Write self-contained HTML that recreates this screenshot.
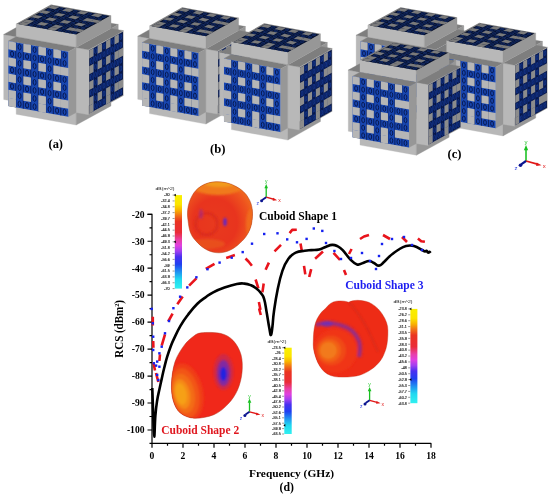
<!DOCTYPE html><html><head><meta charset="utf-8"><style>
html,body{margin:0;padding:0;background:#fff;}
svg{display:block;}
.ax{font-family:"Liberation Serif",serif;font-weight:bold;font-size:9.6px;}
.lab{font-family:"Liberation Serif",serif;font-weight:bold;}
.cbt{font-family:"Liberation Sans",sans-serif;font-size:4.2px;fill:#111;}
.cbl{font-family:"Liberation Sans",sans-serif;font-size:3.7px;fill:#111;stroke:#111;stroke-width:0.12px;}
.tri{font-family:"Liberation Sans",sans-serif;font-size:5px;}
</style></head><body>
<svg width="550" height="496" viewBox="0 0 550 496">
<defs>
<filter id="bl" x="-20%" y="-20%" width="140%" height="140%"><feGaussianBlur stdDeviation="1.2"/></filter>
<linearGradient id="cbg" x1="0" y1="0" x2="0" y2="1">
<stop offset="0" stop-color="#f8f000"/><stop offset="0.1" stop-color="#fce400"/><stop offset="0.16" stop-color="#f8b400"/>
<stop offset="0.22" stop-color="#f07018"/><stop offset="0.28" stop-color="#ea3420"/><stop offset="0.4" stop-color="#ea2c38"/>
<stop offset="0.48" stop-color="#e840a8"/><stop offset="0.54" stop-color="#e040e0"/><stop offset="0.6" stop-color="#a040f0"/>
<stop offset="0.66" stop-color="#4a30f0"/><stop offset="0.74" stop-color="#2040f0"/><stop offset="0.82" stop-color="#2090f0"/>
<stop offset="0.9" stop-color="#20d8f0"/><stop offset="1" stop-color="#30f0f0"/>
</linearGradient>
<radialGradient id="bl1" cx="0.42" cy="0.58" r="0.62">
<stop offset="0" stop-color="#e83a1e"/><stop offset="0.55" stop-color="#e8341e"/><stop offset="0.85" stop-color="#ee521e"/><stop offset="1" stop-color="#f0661e"/>
</radialGradient>
<g id="cube">

<polygon points="34.8,-6.08 42.05,-10.05 102.05,0.74 94.8,4.72" fill="#7e7e7e" stroke="#7e7e7e" stroke-width="0.35" stroke-linejoin="round"/>
<polygon points="94.8,4.72 102.05,0.74 102.05,65.75 94.8,69.72" fill="#979797" stroke="#979797" stroke-width="0.35" stroke-linejoin="round"/>
<polygon points="0,78 60,88.8 60,101.3 0,90.5" fill="#b8b8b8" stroke="#b8b8b8" stroke-width="0.35" stroke-linejoin="round"/>
<polygon points="60,88.8 94.8,69.72 94.8,82.22 60,101.3" fill="#979797" stroke="#979797" stroke-width="0.35" stroke-linejoin="round"/>
<polygon points="-12.5,10.75 0,13 0,78 -12.5,75.75" fill="#b8b8b8" stroke="#b8b8b8" stroke-width="0.35" stroke-linejoin="round"/>
<polygon points="-12.5,10.75 22.3,-8.33 34.8,-6.08 0,13" fill="#7e7e7e" stroke="#7e7e7e" stroke-width="0.35" stroke-linejoin="round"/>
<polygon points="60,23.8 72.5,26.05 72.5,91.05 60,88.8" fill="#b8b8b8" stroke="#b8b8b8" stroke-width="0.35" stroke-linejoin="round"/>
<polygon points="60,23.8 94.8,4.72 107.3,6.97 72.5,26.05" fill="#7e7e7e" stroke="#7e7e7e" stroke-width="0.35" stroke-linejoin="round"/>
<g transform="matrix(4.22,-2.32,0,7.89,72.5,26.05)">
<rect x="0" y="0" width="8.24" height="8.24" fill="#979797"/>
<rect x="0.12" y="0.12" width="8" height="8" fill="#08184a"/>
<path d="M1.12,0.12 v8 M2.12,0.12 v8 M3.12,0.12 v8 M4.12,0.12 v8 M5.12,0.12 v8 M6.12,0.12 v8 M7.12,0.12 v8" stroke="#163a96" stroke-width="0.1" fill="none"/>
<rect x="0.12" y="0.12" width="1.02" height="1.02" fill="#8c8c8c"/>
<rect x="2.12" y="0.12" width="1.02" height="1.02" fill="#8c8c8c"/>
<rect x="4.12" y="0.12" width="1.02" height="1.02" fill="#8c8c8c"/>
<rect x="6.12" y="0.12" width="1.02" height="1.02" fill="#8c8c8c"/>
<rect x="0.12" y="2.12" width="1.02" height="1.02" fill="#8c8c8c"/>
<rect x="2.12" y="2.12" width="1.02" height="1.02" fill="#8c8c8c"/>
<rect x="4.12" y="2.12" width="1.02" height="1.02" fill="#8c8c8c"/>
<rect x="6.12" y="2.12" width="1.02" height="1.02" fill="#8c8c8c"/>
<rect x="7.12" y="2.12" width="1.02" height="1.02" fill="#8c8c8c"/>
<rect x="0.12" y="4.12" width="1.02" height="1.02" fill="#8c8c8c"/>
<rect x="2.12" y="4.12" width="1.02" height="1.02" fill="#8c8c8c"/>
<rect x="4.12" y="4.12" width="1.02" height="1.02" fill="#8c8c8c"/>
<rect x="6.12" y="4.12" width="1.02" height="1.02" fill="#8c8c8c"/>
<rect x="0.12" y="6.12" width="1.02" height="1.02" fill="#8c8c8c"/>
<rect x="2.12" y="6.12" width="1.02" height="1.02" fill="#8c8c8c"/>
<rect x="4.12" y="6.12" width="1.02" height="1.02" fill="#8c8c8c"/>
<rect x="6.12" y="6.12" width="1.02" height="1.02" fill="#8c8c8c"/>
<rect x="7.12" y="6.12" width="1.02" height="1.02" fill="#8c8c8c"/>
<rect x="0.12" y="7.12" width="1.02" height="1.02" fill="#8c8c8c"/>
<rect x="4.12" y="7.12" width="1.02" height="1.02" fill="#8c8c8c"/>
<g fill="none" stroke="#163a96" stroke-width="0.12"><ellipse cx="1.62" cy="0.62" rx="0.2" ry="0.34"/><ellipse cx="3.62" cy="0.62" rx="0.2" ry="0.34"/><ellipse cx="5.62" cy="0.62" rx="0.2" ry="0.34"/><ellipse cx="7.62" cy="0.62" rx="0.2" ry="0.34"/><ellipse cx="0.62" cy="1.62" rx="0.2" ry="0.34"/><ellipse cx="1.62" cy="1.62" rx="0.2" ry="0.34"/><ellipse cx="2.62" cy="1.62" rx="0.2" ry="0.34"/><ellipse cx="3.62" cy="1.62" rx="0.2" ry="0.34"/><ellipse cx="4.62" cy="1.62" rx="0.2" ry="0.34"/><ellipse cx="5.62" cy="1.62" rx="0.2" ry="0.34"/><ellipse cx="6.62" cy="1.62" rx="0.2" ry="0.34"/><ellipse cx="7.62" cy="1.62" rx="0.2" ry="0.34"/><ellipse cx="1.62" cy="2.62" rx="0.2" ry="0.34"/><ellipse cx="3.62" cy="2.62" rx="0.2" ry="0.34"/><ellipse cx="5.62" cy="2.62" rx="0.2" ry="0.34"/><ellipse cx="0.62" cy="3.62" rx="0.2" ry="0.34"/><ellipse cx="1.62" cy="3.62" rx="0.2" ry="0.34"/><ellipse cx="2.62" cy="3.62" rx="0.2" ry="0.34"/><ellipse cx="3.62" cy="3.62" rx="0.2" ry="0.34"/><ellipse cx="4.62" cy="3.62" rx="0.2" ry="0.34"/><ellipse cx="5.62" cy="3.62" rx="0.2" ry="0.34"/><ellipse cx="6.62" cy="3.62" rx="0.2" ry="0.34"/><ellipse cx="7.62" cy="3.62" rx="0.2" ry="0.34"/><ellipse cx="1.62" cy="4.62" rx="0.2" ry="0.34"/><ellipse cx="3.62" cy="4.62" rx="0.2" ry="0.34"/><ellipse cx="5.62" cy="4.62" rx="0.2" ry="0.34"/><ellipse cx="7.62" cy="4.62" rx="0.2" ry="0.34"/><ellipse cx="0.62" cy="5.62" rx="0.2" ry="0.34"/><ellipse cx="1.62" cy="5.62" rx="0.2" ry="0.34"/><ellipse cx="2.62" cy="5.62" rx="0.2" ry="0.34"/><ellipse cx="3.62" cy="5.62" rx="0.2" ry="0.34"/><ellipse cx="4.62" cy="5.62" rx="0.2" ry="0.34"/><ellipse cx="5.62" cy="5.62" rx="0.2" ry="0.34"/><ellipse cx="6.62" cy="5.62" rx="0.2" ry="0.34"/><ellipse cx="7.62" cy="5.62" rx="0.2" ry="0.34"/><ellipse cx="1.62" cy="6.62" rx="0.2" ry="0.34"/><ellipse cx="3.62" cy="6.62" rx="0.2" ry="0.34"/><ellipse cx="5.62" cy="6.62" rx="0.2" ry="0.34"/><ellipse cx="1.62" cy="7.62" rx="0.2" ry="0.34"/><ellipse cx="2.62" cy="7.62" rx="0.2" ry="0.34"/><ellipse cx="3.62" cy="7.62" rx="0.2" ry="0.34"/><ellipse cx="5.62" cy="7.62" rx="0.2" ry="0.34"/><ellipse cx="6.62" cy="7.62" rx="0.2" ry="0.34"/><ellipse cx="7.62" cy="7.62" rx="0.2" ry="0.34"/></g>
</g>
<polygon points="0,0 60,10.8 60,23.8 0,13" fill="#b8b8b8" stroke="#b8b8b8" stroke-width="0.35" stroke-linejoin="round"/>
<polygon points="60,10.8 94.8,-8.28 94.8,4.72 60,23.8" fill="#979797" stroke="#979797" stroke-width="0.35" stroke-linejoin="round"/>
<g transform="matrix(7.23,1.3,-4.19,2.3,34.8,-19.08)">
<rect x="0" y="0" width="8.3" height="8.3" fill="#808080"/>
<rect x="0.3" y="0.3" width="8" height="8" fill="#07112c"/>
<path d="M1.3,0.3 v8 M2.3,0.3 v8 M3.3,0.3 v8 M4.3,0.3 v8 M5.3,0.3 v8 M6.3,0.3 v8 M7.3,0.3 v8" stroke="#163278" stroke-width="0.1" fill="none"/>
<rect x="0.3" y="0.3" width="1.02" height="1.02" fill="#7a7a7a"/>
<rect x="2.3" y="0.3" width="1.02" height="1.02" fill="#7a7a7a"/>
<rect x="4.3" y="0.3" width="1.02" height="1.02" fill="#7a7a7a"/>
<rect x="6.3" y="0.3" width="1.02" height="1.02" fill="#7a7a7a"/>
<rect x="0.3" y="2.3" width="1.02" height="1.02" fill="#7a7a7a"/>
<rect x="2.3" y="2.3" width="1.02" height="1.02" fill="#7a7a7a"/>
<rect x="4.3" y="2.3" width="1.02" height="1.02" fill="#7a7a7a"/>
<rect x="6.3" y="2.3" width="1.02" height="1.02" fill="#7a7a7a"/>
<rect x="7.3" y="2.3" width="1.02" height="1.02" fill="#7a7a7a"/>
<rect x="0.3" y="4.3" width="1.02" height="1.02" fill="#7a7a7a"/>
<rect x="2.3" y="4.3" width="1.02" height="1.02" fill="#7a7a7a"/>
<rect x="4.3" y="4.3" width="1.02" height="1.02" fill="#7a7a7a"/>
<rect x="6.3" y="4.3" width="1.02" height="1.02" fill="#7a7a7a"/>
<rect x="0.3" y="6.3" width="1.02" height="1.02" fill="#7a7a7a"/>
<rect x="2.3" y="6.3" width="1.02" height="1.02" fill="#7a7a7a"/>
<rect x="4.3" y="6.3" width="1.02" height="1.02" fill="#7a7a7a"/>
<rect x="6.3" y="6.3" width="1.02" height="1.02" fill="#7a7a7a"/>
<rect x="7.3" y="6.3" width="1.02" height="1.02" fill="#7a7a7a"/>
<rect x="0.3" y="7.3" width="1.02" height="1.02" fill="#7a7a7a"/>
<rect x="4.3" y="7.3" width="1.02" height="1.02" fill="#7a7a7a"/>
<g fill="none" stroke="#163278" stroke-width="0.12"><ellipse cx="1.8" cy="0.8" rx="0.2" ry="0.34"/><ellipse cx="3.8" cy="0.8" rx="0.2" ry="0.34"/><ellipse cx="5.8" cy="0.8" rx="0.2" ry="0.34"/><ellipse cx="7.8" cy="0.8" rx="0.2" ry="0.34"/><ellipse cx="0.8" cy="1.8" rx="0.2" ry="0.34"/><ellipse cx="1.8" cy="1.8" rx="0.2" ry="0.34"/><ellipse cx="2.8" cy="1.8" rx="0.2" ry="0.34"/><ellipse cx="3.8" cy="1.8" rx="0.2" ry="0.34"/><ellipse cx="4.8" cy="1.8" rx="0.2" ry="0.34"/><ellipse cx="5.8" cy="1.8" rx="0.2" ry="0.34"/><ellipse cx="6.8" cy="1.8" rx="0.2" ry="0.34"/><ellipse cx="7.8" cy="1.8" rx="0.2" ry="0.34"/><ellipse cx="1.8" cy="2.8" rx="0.2" ry="0.34"/><ellipse cx="3.8" cy="2.8" rx="0.2" ry="0.34"/><ellipse cx="5.8" cy="2.8" rx="0.2" ry="0.34"/><ellipse cx="0.8" cy="3.8" rx="0.2" ry="0.34"/><ellipse cx="1.8" cy="3.8" rx="0.2" ry="0.34"/><ellipse cx="2.8" cy="3.8" rx="0.2" ry="0.34"/><ellipse cx="3.8" cy="3.8" rx="0.2" ry="0.34"/><ellipse cx="4.8" cy="3.8" rx="0.2" ry="0.34"/><ellipse cx="5.8" cy="3.8" rx="0.2" ry="0.34"/><ellipse cx="6.8" cy="3.8" rx="0.2" ry="0.34"/><ellipse cx="7.8" cy="3.8" rx="0.2" ry="0.34"/><ellipse cx="1.8" cy="4.8" rx="0.2" ry="0.34"/><ellipse cx="3.8" cy="4.8" rx="0.2" ry="0.34"/><ellipse cx="5.8" cy="4.8" rx="0.2" ry="0.34"/><ellipse cx="7.8" cy="4.8" rx="0.2" ry="0.34"/><ellipse cx="0.8" cy="5.8" rx="0.2" ry="0.34"/><ellipse cx="1.8" cy="5.8" rx="0.2" ry="0.34"/><ellipse cx="2.8" cy="5.8" rx="0.2" ry="0.34"/><ellipse cx="3.8" cy="5.8" rx="0.2" ry="0.34"/><ellipse cx="4.8" cy="5.8" rx="0.2" ry="0.34"/><ellipse cx="5.8" cy="5.8" rx="0.2" ry="0.34"/><ellipse cx="6.8" cy="5.8" rx="0.2" ry="0.34"/><ellipse cx="7.8" cy="5.8" rx="0.2" ry="0.34"/><ellipse cx="1.8" cy="6.8" rx="0.2" ry="0.34"/><ellipse cx="3.8" cy="6.8" rx="0.2" ry="0.34"/><ellipse cx="5.8" cy="6.8" rx="0.2" ry="0.34"/><ellipse cx="1.8" cy="7.8" rx="0.2" ry="0.34"/><ellipse cx="2.8" cy="7.8" rx="0.2" ry="0.34"/><ellipse cx="3.8" cy="7.8" rx="0.2" ry="0.34"/><ellipse cx="5.8" cy="7.8" rx="0.2" ry="0.34"/><ellipse cx="6.8" cy="7.8" rx="0.2" ry="0.34"/><ellipse cx="7.8" cy="7.8" rx="0.2" ry="0.34"/></g>
</g>
<polygon points="-7.89,17.32 0,13 60,23.8 52.11,28.12" fill="#7e7e7e" stroke="#7e7e7e" stroke-width="0.35" stroke-linejoin="round"/>
<polygon points="52.11,28.12 60,23.8 60,88.8 52.11,93.12" fill="#979797" stroke="#979797" stroke-width="0.35" stroke-linejoin="round"/>
<g transform="matrix(7.5,1.35,0,8.12,-7.89,17.32)">
<rect x="0" y="0" width="8" height="8" fill="#b8b8b8"/>
<rect x="0" y="0" width="8" height="8" fill="#1846b0"/>
<path d="M1,0 v8 M2,0 v8 M3,0 v8 M4,0 v8 M5,0 v8 M6,0 v8 M7,0 v8" stroke="#06164a" stroke-width="0.1" fill="none"/>
<rect x="0" y="0" width="1.02" height="1.02" fill="#b6b6b6"/>
<rect x="2" y="0" width="1.02" height="1.02" fill="#b6b6b6"/>
<rect x="4" y="0" width="1.02" height="1.02" fill="#b6b6b6"/>
<rect x="6" y="0" width="1.02" height="1.02" fill="#b6b6b6"/>
<rect x="0" y="2" width="1.02" height="1.02" fill="#b6b6b6"/>
<rect x="2" y="2" width="1.02" height="1.02" fill="#b6b6b6"/>
<rect x="4" y="2" width="1.02" height="1.02" fill="#b6b6b6"/>
<rect x="6" y="2" width="1.02" height="1.02" fill="#b6b6b6"/>
<rect x="7" y="2" width="1.02" height="1.02" fill="#b6b6b6"/>
<rect x="0" y="4" width="1.02" height="1.02" fill="#b6b6b6"/>
<rect x="2" y="4" width="1.02" height="1.02" fill="#b6b6b6"/>
<rect x="4" y="4" width="1.02" height="1.02" fill="#b6b6b6"/>
<rect x="6" y="4" width="1.02" height="1.02" fill="#b6b6b6"/>
<rect x="0" y="6" width="1.02" height="1.02" fill="#b6b6b6"/>
<rect x="2" y="6" width="1.02" height="1.02" fill="#b6b6b6"/>
<rect x="4" y="6" width="1.02" height="1.02" fill="#b6b6b6"/>
<rect x="6" y="6" width="1.02" height="1.02" fill="#b6b6b6"/>
<rect x="7" y="6" width="1.02" height="1.02" fill="#b6b6b6"/>
<rect x="0" y="7" width="1.02" height="1.02" fill="#b6b6b6"/>
<rect x="4" y="7" width="1.02" height="1.02" fill="#b6b6b6"/>
<g fill="none" stroke="#06164a" stroke-width="0.12"><ellipse cx="1.5" cy="0.5" rx="0.2" ry="0.34"/><ellipse cx="3.5" cy="0.5" rx="0.2" ry="0.34"/><ellipse cx="5.5" cy="0.5" rx="0.2" ry="0.34"/><ellipse cx="7.5" cy="0.5" rx="0.2" ry="0.34"/><ellipse cx="0.5" cy="1.5" rx="0.2" ry="0.34"/><ellipse cx="1.5" cy="1.5" rx="0.2" ry="0.34"/><ellipse cx="2.5" cy="1.5" rx="0.2" ry="0.34"/><ellipse cx="3.5" cy="1.5" rx="0.2" ry="0.34"/><ellipse cx="4.5" cy="1.5" rx="0.2" ry="0.34"/><ellipse cx="5.5" cy="1.5" rx="0.2" ry="0.34"/><ellipse cx="6.5" cy="1.5" rx="0.2" ry="0.34"/><ellipse cx="7.5" cy="1.5" rx="0.2" ry="0.34"/><ellipse cx="1.5" cy="2.5" rx="0.2" ry="0.34"/><ellipse cx="3.5" cy="2.5" rx="0.2" ry="0.34"/><ellipse cx="5.5" cy="2.5" rx="0.2" ry="0.34"/><ellipse cx="0.5" cy="3.5" rx="0.2" ry="0.34"/><ellipse cx="1.5" cy="3.5" rx="0.2" ry="0.34"/><ellipse cx="2.5" cy="3.5" rx="0.2" ry="0.34"/><ellipse cx="3.5" cy="3.5" rx="0.2" ry="0.34"/><ellipse cx="4.5" cy="3.5" rx="0.2" ry="0.34"/><ellipse cx="5.5" cy="3.5" rx="0.2" ry="0.34"/><ellipse cx="6.5" cy="3.5" rx="0.2" ry="0.34"/><ellipse cx="7.5" cy="3.5" rx="0.2" ry="0.34"/><ellipse cx="1.5" cy="4.5" rx="0.2" ry="0.34"/><ellipse cx="3.5" cy="4.5" rx="0.2" ry="0.34"/><ellipse cx="5.5" cy="4.5" rx="0.2" ry="0.34"/><ellipse cx="7.5" cy="4.5" rx="0.2" ry="0.34"/><ellipse cx="0.5" cy="5.5" rx="0.2" ry="0.34"/><ellipse cx="1.5" cy="5.5" rx="0.2" ry="0.34"/><ellipse cx="2.5" cy="5.5" rx="0.2" ry="0.34"/><ellipse cx="3.5" cy="5.5" rx="0.2" ry="0.34"/><ellipse cx="4.5" cy="5.5" rx="0.2" ry="0.34"/><ellipse cx="5.5" cy="5.5" rx="0.2" ry="0.34"/><ellipse cx="6.5" cy="5.5" rx="0.2" ry="0.34"/><ellipse cx="7.5" cy="5.5" rx="0.2" ry="0.34"/><ellipse cx="1.5" cy="6.5" rx="0.2" ry="0.34"/><ellipse cx="3.5" cy="6.5" rx="0.2" ry="0.34"/><ellipse cx="5.5" cy="6.5" rx="0.2" ry="0.34"/><ellipse cx="1.5" cy="7.5" rx="0.2" ry="0.34"/><ellipse cx="2.5" cy="7.5" rx="0.2" ry="0.34"/><ellipse cx="3.5" cy="7.5" rx="0.2" ry="0.34"/><ellipse cx="5.5" cy="7.5" rx="0.2" ry="0.34"/><ellipse cx="6.5" cy="7.5" rx="0.2" ry="0.34"/><ellipse cx="7.5" cy="7.5" rx="0.2" ry="0.34"/></g>
</g>
</g>
</defs>

<use href="#cube" transform="translate(16.2,23.7) scale(1,1)"/>
<use href="#cube" transform="translate(149.5,25.8) scale(0.94,0.97)"/>
<use href="#cube" transform="translate(231.4,41.8) scale(0.94,0.97)"/>
<use href="#cube" transform="translate(367.9,25.1) scale(0.94,0.94)"/>
<use href="#cube" transform="translate(446.6,40.7) scale(0.94,0.94)"/>
<use href="#cube" transform="translate(360,60) scale(0.94,0.94)"/>
<text x="48.5" y="148" class="lab" font-size="12" textLength="14.5" lengthAdjust="spacingAndGlyphs">(a)</text>
<text x="210" y="153" class="lab" font-size="12" textLength="15.5" lengthAdjust="spacingAndGlyphs">(b)</text>
<text x="447.5" y="158" class="lab" font-size="12" textLength="14" lengthAdjust="spacingAndGlyphs">(c)</text>
<g transform="translate(526,161) scale(1.2)"><path d="M0,0 V-9.5" stroke="#18c020" stroke-width="1.3"/><path d="M-1.8,-9 L0,-13.3 L1.8,-9z" fill="#18c020"/><path d="M0,0 L9.42,2.61" stroke="#e01818" stroke-width="1.4"/><path d="M8.92,1.21 L12.92,3.61 L8.42,4.11 z" fill="#e01818"/><path d="M0,0 L-4,2.8" stroke="#0a1490" stroke-width="1.8"/><circle cx="-4.6" cy="3.6" r="1.5" fill="#0a1490"/><text x="0" y="-13.9" text-anchor="middle" class="tri" fill="#18c020">y</text><text x="15.22" y="5.81" text-anchor="middle" class="tri" fill="#e01818">x</text><text x="-8.4" y="7.8" text-anchor="middle" class="tri" fill="#3040e0">z</text></g>
<path d="M147.5,214.3 H152 V443.3 H431.2" fill="none" stroke="#000" stroke-width="1.2"/>
<path d="M152,214.3 h-4.5 M152,227.78 h-2.5 M152,241.26 h-4.5 M152,254.74 h-2.5 M152,268.22 h-4.5 M152,281.7 h-2.5 M152,295.18 h-4.5 M152,308.66 h-2.5 M152,322.14 h-4.5 M152,335.62 h-2.5 M152,349.1 h-4.5 M152,362.58 h-2.5 M152,376.06 h-4.5 M152,389.54 h-2.5 M152,403.02 h-4.5 M152,416.5 h-2.5 M152,429.98 h-4.5 M152,443.46 h-2.5 M152,443.3 v4.5 M167.5,443.3 v2.5 M183,443.3 v4.5 M198.5,443.3 v2.5 M214,443.3 v4.5 M229.5,443.3 v2.5 M245,443.3 v4.5 M260.5,443.3 v2.5 M276,443.3 v4.5 M291.5,443.3 v2.5 M307,443.3 v4.5 M322.5,443.3 v2.5 M338,443.3 v4.5 M353.5,443.3 v2.5 M369,443.3 v4.5 M384.5,443.3 v2.5 M400,443.3 v4.5 M415.5,443.3 v2.5 M431,443.3 v4.5" stroke="#000" stroke-width="1.2" fill="none"/>
<text x="144.5" y="217.6" text-anchor="end" class="ax">-20</text>
<text x="144.5" y="244.56" text-anchor="end" class="ax">-30</text>
<text x="144.5" y="271.52" text-anchor="end" class="ax">-40</text>
<text x="144.5" y="298.48" text-anchor="end" class="ax">-50</text>
<text x="144.5" y="325.44" text-anchor="end" class="ax">-60</text>
<text x="144.5" y="352.4" text-anchor="end" class="ax">-70</text>
<text x="144.5" y="379.36" text-anchor="end" class="ax">-80</text>
<text x="144.5" y="406.32" text-anchor="end" class="ax">-90</text>
<text x="144.5" y="433.28" text-anchor="end" class="ax">-100</text>
<text x="152" y="459" text-anchor="middle" class="ax">0</text>
<text x="183" y="459" text-anchor="middle" class="ax">2</text>
<text x="214" y="459" text-anchor="middle" class="ax">4</text>
<text x="245" y="459" text-anchor="middle" class="ax">6</text>
<text x="276" y="459" text-anchor="middle" class="ax">8</text>
<text x="307" y="459" text-anchor="middle" class="ax">10</text>
<text x="338" y="459" text-anchor="middle" class="ax">12</text>
<text x="369" y="459" text-anchor="middle" class="ax">14</text>
<text x="400" y="459" text-anchor="middle" class="ax">16</text>
<text x="431" y="459" text-anchor="middle" class="ax">18</text>
<clipPath id="cb1"><path d="M216,181.8 C205,182 196,188 192,196 C187,205 187,214 188,220 C189,229 190,235 196,241 C202,248 210,253 219.3,252.8 C227,252.5 234,249 240,243 C246,238 250,231 251.5,224 C253.5,214 252.5,205 249,199 C246,193 241,189 236,186.5 C230,183 223,181.5 216,181.8 Z"/></clipPath>
<path d="M216,181.8 C205,182 196,188 192,196 C187,205 187,214 188,220 C189,229 190,235 196,241 C202,248 210,253 219.3,252.8 C227,252.5 234,249 240,243 C246,238 250,231 251.5,224 C253.5,214 252.5,205 249,199 C246,193 241,189 236,186.5 C230,183 223,181.5 216,181.8 Z" fill="url(#bl1)"/>
<g clip-path="url(#cb1)"><g filter="url(#bl)">
<ellipse cx="218" cy="186" rx="26" ry="9" fill="#f07a1c"/>
<ellipse cx="220" cy="183" rx="16" ry="4" fill="#f29a1e"/>
<ellipse cx="252" cy="224" rx="6" ry="16" fill="#f06a1e"/>
<circle cx="206.5" cy="224" r="11" fill="none" stroke="#d82a1e" stroke-width="2"/>
<ellipse cx="201" cy="214" rx="2" ry="5" fill="#a02a8c" opacity="0.6"/>
<ellipse cx="225" cy="222" rx="1.8" ry="4.2" fill="#6a28c0"/>
<ellipse cx="207" cy="244" rx="18" ry="5" fill="#ea5a1e" opacity="0.7"/>
</g></g>
<path d="M216,181.8 C205,182 196,188 192,196 C187,205 187,214 188,220 C189,229 190,235 196,241 C202,248 210,253 219.3,252.8 C227,252.5 234,249 240,243 C246,238 250,231 251.5,224 C253.5,214 252.5,205 249,199 C246,193 241,189 236,186.5 C230,183 223,181.5 216,181.8 Z" fill="none" stroke="#b0401a" stroke-width="0.5"/>
<clipPath id="cb2"><path d="M201.5,332.8 C206.22,332.22 215.62,332.2 220.9,333.5 C226.18,334.8 229.85,337.07 233.2,340.6 C236.55,344.13 239.53,349.4 241,354.7 C242.47,360 242.58,366.52 242,372.4 C241.42,378.28 239.83,384.72 237.5,390 C235.17,395.28 231.95,399.98 228,404.1 C224.05,408.22 219.4,412.35 213.8,414.7 C208.2,417.05 199.98,418.48 194.4,418.2 C188.82,417.92 183.83,415.93 180.3,413 C176.77,410.07 174.67,405.6 173.2,400.6 C171.73,395.6 171.2,389.47 171.5,383 C171.8,376.53 172.95,367.98 175,361.8 C177.05,355.62 180.87,350.03 183.8,345.9 C186.73,341.77 189.65,339.18 192.6,337 C195.55,334.82 196.78,333.38 201.5,332.8 Z"/></clipPath>
<path d="M201.5,332.8 C206.22,332.22 215.62,332.2 220.9,333.5 C226.18,334.8 229.85,337.07 233.2,340.6 C236.55,344.13 239.53,349.4 241,354.7 C242.47,360 242.58,366.52 242,372.4 C241.42,378.28 239.83,384.72 237.5,390 C235.17,395.28 231.95,399.98 228,404.1 C224.05,408.22 219.4,412.35 213.8,414.7 C208.2,417.05 199.98,418.48 194.4,418.2 C188.82,417.92 183.83,415.93 180.3,413 C176.77,410.07 174.67,405.6 173.2,400.6 C171.73,395.6 171.2,389.47 171.5,383 C171.8,376.53 172.95,367.98 175,361.8 C177.05,355.62 180.87,350.03 183.8,345.9 C186.73,341.77 189.65,339.18 192.6,337 C195.55,334.82 196.78,333.38 201.5,332.8 Z" fill="#f0281a"/>
<g clip-path="url(#cb2)"><g filter="url(#bl)">
<ellipse cx="186" cy="392" rx="17" ry="29" transform="rotate(-12 186 392)" fill="#f03e18"/>
<ellipse cx="185" cy="393" rx="14" ry="25" transform="rotate(-12 185 393)" fill="#f25418"/>
<ellipse cx="183.5" cy="393.5" rx="11" ry="20" transform="rotate(-12 183.5 393.5)" fill="#f36c16"/>
<ellipse cx="182" cy="394" rx="8" ry="15" transform="rotate(-12 182 394)" fill="#f58a14"/>
<ellipse cx="181" cy="394" rx="5.5" ry="11" transform="rotate(-12 181 394)" fill="#f6a018"/>
<ellipse cx="223.5" cy="372" rx="10" ry="18" fill="#b02a70" opacity="0.5"/>
<ellipse cx="223.5" cy="373" rx="6.5" ry="13" fill="#7028b8" opacity="0.8"/>
<ellipse cx="223.4" cy="374.1" rx="3.2" ry="7" fill="#2420e0"/>
</g></g>
<path d="M201.5,332.8 C206.22,332.22 215.62,332.2 220.9,333.5 C226.18,334.8 229.85,337.07 233.2,340.6 C236.55,344.13 239.53,349.4 241,354.7 C242.47,360 242.58,366.52 242,372.4 C241.42,378.28 239.83,384.72 237.5,390 C235.17,395.28 231.95,399.98 228,404.1 C224.05,408.22 219.4,412.35 213.8,414.7 C208.2,417.05 199.98,418.48 194.4,418.2 C188.82,417.92 183.83,415.93 180.3,413 C176.77,410.07 174.67,405.6 173.2,400.6 C171.73,395.6 171.2,389.47 171.5,383 C171.8,376.53 172.95,367.98 175,361.8 C177.05,355.62 180.87,350.03 183.8,345.9 C186.73,341.77 189.65,339.18 192.6,337 C195.55,334.82 196.78,333.38 201.5,332.8 Z" fill="none" stroke="#b0301a" stroke-width="0.5"/>
<clipPath id="cb3"><path d="M325.7,308.3 C329,304 332,301.8 336.4,301.2 C341,300.6 345,301 348.8,302.2 C351,301 354,300.3 357.7,300.3 C363,300.5 368,301.5 371.9,303.9 C377,307 380,310.5 382.5,314.5 C386,320 388,325 387.9,330.5 C388,337 387.5,343 386.1,348.2 C384,355 382,359 379,362.4 C375.5,366.5 372,369 368.3,371.3 C363,374.5 358,376 352.4,376.6 C346,377.3 340,377.3 334.6,376.6 C329,375.5 325,373 322.2,369.5 C318.5,365 316.5,360 315.1,355.3 C313.5,350 313,346 313.3,341.1 C313.4,336.5 313.5,332.5 314.2,328.7 C315,323.5 316.5,319.5 318.6,316.3 C320.5,313 323,310.5 325.7,308.3 Z"/></clipPath>
<path d="M325.7,308.3 C329,304 332,301.8 336.4,301.2 C341,300.6 345,301 348.8,302.2 C351,301 354,300.3 357.7,300.3 C363,300.5 368,301.5 371.9,303.9 C377,307 380,310.5 382.5,314.5 C386,320 388,325 387.9,330.5 C388,337 387.5,343 386.1,348.2 C384,355 382,359 379,362.4 C375.5,366.5 372,369 368.3,371.3 C363,374.5 358,376 352.4,376.6 C346,377.3 340,377.3 334.6,376.6 C329,375.5 325,373 322.2,369.5 C318.5,365 316.5,360 315.1,355.3 C313.5,350 313,346 313.3,341.1 C313.4,336.5 313.5,332.5 314.2,328.7 C315,323.5 316.5,319.5 318.6,316.3 C320.5,313 323,310.5 325.7,308.3 Z" fill="#ee2c16"/>
<g clip-path="url(#cb3)"><g filter="url(#bl)">
<path d="M349,302 C356,310 362,318 368,330 C372,338 375,345 378,352" fill="none" stroke="#c8281c" stroke-width="1.5" opacity="0.7"/>
<path d="M316,325 C323,322.5 330,322 340,325 C350,327.5 356,333 359,341 C360.5,346 360,352 359,357" fill="none" stroke="#b02a60" stroke-width="6" opacity="0.4"/>
<path d="M316,325 C323,322.5 330,322 340,325 C350,327.5 356,333 359,341 C360.5,346 360,352 359,357" fill="none" stroke="#7030b8" stroke-width="3" opacity="0.65"/>
<ellipse cx="327" cy="324" rx="6" ry="3" fill="#5a30d0" opacity="0.6"/>
<circle cx="335" cy="351" r="22" fill="#f03416"/>
<circle cx="331" cy="350.5" r="15" fill="#f04818"/>
<circle cx="329.5" cy="350.5" r="11.5" fill="#f25e18"/>
<circle cx="328.4" cy="350.5" r="8.5" fill="#f27a1a"/>
</g></g>
<path d="M325.7,308.3 C329,304 332,301.8 336.4,301.2 C341,300.6 345,301 348.8,302.2 C351,301 354,300.3 357.7,300.3 C363,300.5 368,301.5 371.9,303.9 C377,307 380,310.5 382.5,314.5 C386,320 388,325 387.9,330.5 C388,337 387.5,343 386.1,348.2 C384,355 382,359 379,362.4 C375.5,366.5 372,369 368.3,371.3 C363,374.5 358,376 352.4,376.6 C346,377.3 340,377.3 334.6,376.6 C329,375.5 325,373 322.2,369.5 C318.5,365 316.5,360 315.1,355.3 C313.5,350 313,346 313.3,341.1 C313.4,336.5 313.5,332.5 314.2,328.7 C315,323.5 316.5,319.5 318.6,316.3 C320.5,313 323,310.5 325.7,308.3 Z" fill="none" stroke="#c0301a" stroke-width="0.4"/>
<path d="M152.8,316.7 L152.8,325.6 M153.2,341 L153.4,347.8 M153.4,362.5 L155,370.5 M156,373 L158.3,382 M159.4,361 L160,354.4 M161.7,345.6 L165,334.4 M168.2,321.5 L172.6,313.6 M177.3,304.3 L182.7,296.6 M189.1,285.6 L196.4,278.4 M205.8,268.9 L214.5,263.8 M226.2,258 L234.9,255.1 M245.5,258.5 L248.5,261.5 L251.9,265.8 M255.6,279.5 L258.4,288.4 M258.9,302 L260.3,309 L259.3,309.5 L260.8,315 M263.7,283.5 L262.4,292.4 M265.6,269.8 L268.9,262.6 M274.5,251.3 L281,244.8 M289.6,233.1 L292.2,229.9 L296.8,229.8 M300.5,243.6 L302,252.1 M304,265.9 L305.3,274.4 M311.2,269.1 L309.2,277 M315.1,258.7 L323,251.5 M333.5,252.8 L340,260 M344,270 L346,275 M349,254 L351.6,249 M360,239 L364,236.5 L369,235 M383,235 L390,239 M402,237 L407,242 M417.9,238.5 L421.2,241.2 L424.9,241.8" fill="none" stroke="#e8141c" stroke-width="2.6" stroke-linejoin="round"/>
<path d="M152.3,388 C152.51,394.3 152.76,403.64 153.2,415 C153.64,426.36 153.69,436.58 154.2,436.7 C154.71,436.82 154.7,424.02 155.4,415.5 C156.1,406.98 156.24,406.38 157.2,400.2 C158.16,394.02 158.45,393.97 159.5,389 C160.55,384.03 160.58,383.92 161.7,378.9 C162.82,373.88 163.02,372.68 164.3,367.5 C165.58,362.32 165.75,361.48 167.2,356.7 C168.65,351.92 168.94,351.15 170.5,347 C172.06,342.85 171.54,343.89 173.9,338.9 C176.26,333.91 177.26,331.29 180.6,325.6 C183.94,319.91 184.35,319.54 188.2,314.5 C192.05,309.46 193.13,307.94 197.1,304 C201.07,300.06 201.44,300.33 205.2,297.6 C208.96,294.87 208.7,294.66 213.2,292.3 C217.7,289.94 218.99,289.44 224.5,287.5 C230.01,285.56 232.16,284.91 236.8,284 C241.44,283.09 241.09,283.3 244.4,283.6 C247.71,283.9 248.2,284.16 251,285.3 C253.8,286.44 254.11,286.73 256.4,288.5 C258.69,290.27 259,290.47 260.8,292.9 C262.6,295.33 262.75,294.44 264.1,298.9 C265.45,303.36 265.39,305.21 266.6,312 C267.81,318.79 268.27,322.63 269.3,328 C270.33,333.37 270.25,335.47 271,335 C271.75,334.53 271.82,331.37 272.5,326 C273.18,320.63 272.73,320.35 273.9,312 C275.07,303.65 275.52,299.81 277.5,290.2 C279.48,280.59 279.86,278.15 282.4,270.8 C284.94,263.45 285.3,262.92 288.4,258.7 C291.5,254.48 291.9,254.54 295.7,252.7 C299.5,250.86 301.08,251.41 304.7,250.8 C308.32,250.19 307.84,250.4 311.2,250.1 C314.56,249.8 315.74,250.25 319.1,249.5 C322.46,248.75 322.54,247.97 325.6,246.9 C328.66,245.83 329.45,245.06 332.2,244.9 C334.95,244.74 334.95,244.99 337.4,246.2 C339.85,247.41 339.76,247.11 342.7,250.1 C345.64,253.09 346.66,255.66 350,259 C353.34,262.34 353.97,263.47 357,264.4 C360.03,265.33 360.2,263.79 363,263 C365.8,262.21 366.43,261 369,261 C371.57,261 371.67,261.93 374,263 C376.33,264.07 376.67,265.83 379,265.6 C381.33,265.37 381.43,264.24 384,262 C386.57,259.76 386.73,258.8 390,256 C393.27,253.2 394.27,252.33 398,250 C401.73,247.67 402.27,246.93 406,246 C409.73,245.07 410.27,245.07 414,246 C417.73,246.93 419.43,248.72 422,250 C424.57,251.28 423.95,251.31 425,251.5 C426.05,251.69 425.8,250.54 426.5,250.8 C427.2,251.06 427.3,252.37 428,252.6 C428.7,252.83 428.92,251.71 429.5,251.8 C430.08,251.89 430.27,252.72 430.5,253" fill="none" stroke="#000" stroke-width="2.6" stroke-linejoin="round"/>
<rect x="150.5" y="307.7" width="2.4" height="2.4" fill="#1420f0"/>
<rect x="151.6" y="322.1" width="2.4" height="2.4" fill="#1420f0"/>
<rect x="152" y="335.5" width="2.4" height="2.4" fill="#1420f0"/>
<rect x="152" y="348.8" width="2.4" height="2.4" fill="#1420f0"/>
<rect x="152.7" y="362.1" width="2.4" height="2.4" fill="#1420f0"/>
<rect x="156" y="360.4" width="2.4" height="2.4" fill="#1420f0"/>
<rect x="154.9" y="364.4" width="2.4" height="2.4" fill="#1420f0"/>
<rect x="158.2" y="365.5" width="2.4" height="2.4" fill="#1420f0"/>
<rect x="156" y="373.7" width="2.4" height="2.4" fill="#1420f0"/>
<rect x="157.1" y="378.8" width="2.4" height="2.4" fill="#1420f0"/>
<rect x="158.2" y="352.1" width="2.4" height="2.4" fill="#1420f0"/>
<rect x="160.5" y="345.5" width="2.4" height="2.4" fill="#1420f0"/>
<rect x="163.8" y="332.1" width="2.4" height="2.4" fill="#1420f0"/>
<rect x="167.8" y="319.8" width="2.4" height="2.4" fill="#1420f0"/>
<rect x="172.2" y="307" width="2.4" height="2.4" fill="#1420f0"/>
<rect x="178.9" y="295.5" width="2.4" height="2.4" fill="#1420f0"/>
<rect x="186.1" y="286.2" width="2.4" height="2.4" fill="#1420f0"/>
<rect x="195.2" y="276.1" width="2.4" height="2.4" fill="#1420f0"/>
<rect x="206.3" y="268" width="2.4" height="2.4" fill="#1420f0"/>
<rect x="218.4" y="261.4" width="2.4" height="2.4" fill="#1420f0"/>
<rect x="230.5" y="256.5" width="2.4" height="2.4" fill="#1420f0"/>
<rect x="241.5" y="250.9" width="2.4" height="2.4" fill="#1420f0"/>
<rect x="250.8" y="242.5" width="2.4" height="2.4" fill="#1420f0"/>
<rect x="263" y="232.8" width="2.4" height="2.4" fill="#1420f0"/>
<rect x="276.3" y="232.1" width="2.4" height="2.4" fill="#1420f0"/>
<rect x="286" y="238.2" width="2.4" height="2.4" fill="#1420f0"/>
<rect x="295.8" y="241.1" width="2.4" height="2.4" fill="#1420f0"/>
<rect x="305.4" y="237.7" width="2.4" height="2.4" fill="#1420f0"/>
<rect x="312.6" y="227.3" width="2.4" height="2.4" fill="#1420f0"/>
<rect x="321.1" y="229.7" width="2.4" height="2.4" fill="#1420f0"/>
<rect x="324.8" y="241.8" width="2.4" height="2.4" fill="#1420f0"/>
<rect x="333.2" y="249.8" width="2.4" height="2.4" fill="#1420f0"/>
<rect x="339.8" y="257.8" width="2.4" height="2.4" fill="#1420f0"/>
<rect x="349.8" y="256.8" width="2.4" height="2.4" fill="#1420f0"/>
<rect x="360.8" y="251.8" width="2.4" height="2.4" fill="#1420f0"/>
<rect x="368.8" y="259.8" width="2.4" height="2.4" fill="#1420f0"/>
<rect x="374.8" y="267.8" width="2.4" height="2.4" fill="#1420f0"/>
<rect x="377.8" y="254.8" width="2.4" height="2.4" fill="#1420f0"/>
<rect x="380.8" y="242.8" width="2.4" height="2.4" fill="#1420f0"/>
<rect x="390.8" y="237.8" width="2.4" height="2.4" fill="#1420f0"/>
<rect x="402.8" y="235.8" width="2.4" height="2.4" fill="#1420f0"/>
<rect x="410.8" y="243.8" width="2.4" height="2.4" fill="#1420f0"/>
<rect x="420.8" y="248.8" width="2.4" height="2.4" fill="#1420f0"/>
<rect x="174.8" y="195.1" width="7.2" height="93.5" fill="url(#cbg)"/>
<text x="155.5" y="190.4" class="cbt" textLength="19" lengthAdjust="spacingAndGlyphs">dB(m^2)</text>
<text x="169.7" y="196.4" text-anchor="end" class="cbl">-30</text>
<text x="169.7" y="202.24" text-anchor="end" class="cbl">-32.4</text>
<text x="169.7" y="208.09" text-anchor="end" class="cbl">-34.8</text>
<text x="169.7" y="213.93" text-anchor="end" class="cbl">-37.2</text>
<text x="169.7" y="219.78" text-anchor="end" class="cbl">-39.7</text>
<text x="169.7" y="225.62" text-anchor="end" class="cbl">-42.1</text>
<text x="169.7" y="231.46" text-anchor="end" class="cbl">-44.5</text>
<text x="169.7" y="237.31" text-anchor="end" class="cbl">-46.9</text>
<text x="169.7" y="243.15" text-anchor="end" class="cbl">-49.3</text>
<text x="169.7" y="248.99" text-anchor="end" class="cbl">-51.8</text>
<text x="169.7" y="254.84" text-anchor="end" class="cbl">-54.2</text>
<text x="169.7" y="260.68" text-anchor="end" class="cbl">-56.6</text>
<text x="169.7" y="266.53" text-anchor="end" class="cbl">-59</text>
<text x="169.7" y="272.37" text-anchor="end" class="cbl">-61.5</text>
<text x="169.7" y="278.21" text-anchor="end" class="cbl">-63.9</text>
<text x="169.7" y="284.06" text-anchor="end" class="cbl">-66.3</text>
<text x="169.7" y="289.9" text-anchor="end" class="cbl">-70</text>
<path d="M172.6,195.1 h2 M172.6,200.94 h2 M172.6,206.79 h2 M172.6,212.63 h2 M172.6,218.47 h2 M172.6,224.32 h2 M172.6,230.16 h2 M172.6,236.01 h2 M172.6,241.85 h2 M172.6,247.69 h2 M172.6,253.54 h2 M172.6,259.38 h2 M172.6,265.23 h2 M172.6,271.07 h2 M172.6,276.91 h2 M172.6,282.76 h2 M172.6,288.6 h2" stroke="#333" stroke-width="0.5"/>
<path d="M173.8,195.1 l2,-1.3 v2.6z" fill="#000"/>
<path d="M173.8,241.85 l2,-1.3 v2.6z" fill="#000"/>
<rect x="284.3" y="347.7" width="7.4" height="86.3" fill="url(#cbg)"/>
<text x="267.4" y="342.5" class="cbt" textLength="19" lengthAdjust="spacingAndGlyphs">dB(m^2)</text>
<text x="280.7" y="349" text-anchor="end" class="cbl">-23.5</text>
<text x="280.7" y="354.39" text-anchor="end" class="cbl">-26</text>
<text x="280.7" y="359.79" text-anchor="end" class="cbl">-28.4</text>
<text x="280.7" y="365.18" text-anchor="end" class="cbl">-30.8</text>
<text x="280.7" y="370.57" text-anchor="end" class="cbl">-33.2</text>
<text x="280.7" y="375.97" text-anchor="end" class="cbl">-35.7</text>
<text x="280.7" y="381.36" text-anchor="end" class="cbl">-38.1</text>
<text x="280.7" y="386.76" text-anchor="end" class="cbl">-40.5</text>
<text x="280.7" y="392.15" text-anchor="end" class="cbl">-42.9</text>
<text x="280.7" y="397.54" text-anchor="end" class="cbl">-45.4</text>
<text x="280.7" y="402.94" text-anchor="end" class="cbl">-47.8</text>
<text x="280.7" y="408.33" text-anchor="end" class="cbl">-50.2</text>
<text x="280.7" y="413.73" text-anchor="end" class="cbl">-52.6</text>
<text x="280.7" y="419.12" text-anchor="end" class="cbl">-55.1</text>
<text x="280.7" y="424.51" text-anchor="end" class="cbl">-57.5</text>
<text x="280.7" y="429.91" text-anchor="end" class="cbl">-59.9</text>
<text x="280.7" y="435.3" text-anchor="end" class="cbl">-63.5</text>
<path d="M282.1,347.7 h2 M282.1,353.09 h2 M282.1,358.49 h2 M282.1,363.88 h2 M282.1,369.27 h2 M282.1,374.67 h2 M282.1,380.06 h2 M282.1,385.46 h2 M282.1,390.85 h2 M282.1,396.24 h2 M282.1,401.64 h2 M282.1,407.03 h2 M282.1,412.43 h2 M282.1,417.82 h2 M282.1,423.21 h2 M282.1,428.61 h2 M282.1,434 h2" stroke="#333" stroke-width="0.5"/>
<path d="M283.3,347.7 l2,-1.3 v2.6z" fill="#000"/>
<path d="M283.3,425.37 l2,-1.3 v2.6z" fill="#000"/>
<rect x="410.4" y="308.9" width="7" height="94.3" fill="url(#cbg)"/>
<text x="393.5" y="303" class="cbt" textLength="19" lengthAdjust="spacingAndGlyphs">dB(m^2)</text>
<text x="406.8" y="310.2" text-anchor="end" class="cbl">-23.8</text>
<text x="406.8" y="316.09" text-anchor="end" class="cbl">-26.2</text>
<text x="406.8" y="321.99" text-anchor="end" class="cbl">-28.6</text>
<text x="406.8" y="327.88" text-anchor="end" class="cbl">-31.1</text>
<text x="406.8" y="333.77" text-anchor="end" class="cbl">-33.5</text>
<text x="406.8" y="339.67" text-anchor="end" class="cbl">-35.9</text>
<text x="406.8" y="345.56" text-anchor="end" class="cbl">-38.3</text>
<text x="406.8" y="351.46" text-anchor="end" class="cbl">-40.8</text>
<text x="406.8" y="357.35" text-anchor="end" class="cbl">-43.2</text>
<text x="406.8" y="363.24" text-anchor="end" class="cbl">-45.6</text>
<text x="406.8" y="369.14" text-anchor="end" class="cbl">-48</text>
<text x="406.8" y="375.03" text-anchor="end" class="cbl">-50.5</text>
<text x="406.8" y="380.93" text-anchor="end" class="cbl">-52.9</text>
<text x="406.8" y="386.82" text-anchor="end" class="cbl">-55.3</text>
<text x="406.8" y="392.71" text-anchor="end" class="cbl">-57.7</text>
<text x="406.8" y="398.61" text-anchor="end" class="cbl">-60.2</text>
<text x="406.8" y="404.5" text-anchor="end" class="cbl">-63.8</text>
<path d="M408.2,308.9 h2 M408.2,314.79 h2 M408.2,320.69 h2 M408.2,326.58 h2 M408.2,332.47 h2 M408.2,338.37 h2 M408.2,344.26 h2 M408.2,350.16 h2 M408.2,356.05 h2 M408.2,361.94 h2 M408.2,367.84 h2 M408.2,373.73 h2 M408.2,379.62 h2 M408.2,385.52 h2 M408.2,391.41 h2 M408.2,397.31 h2 M408.2,403.2 h2" stroke="#333" stroke-width="0.5"/>
<path d="M409.4,308.9 l2,-1.3 v2.6z" fill="#000"/>
<path d="M409.4,379.62 l2,-1.3 v2.6z" fill="#000"/>
<g transform="translate(266.2,197.2) scale(1)"><path d="M0,0 V-9.5" stroke="#18c020" stroke-width="1.3"/><path d="M-1.8,-9 L0,-13.3 L1.8,-9z" fill="#18c020"/><path d="M0,0 L7.47,2.07" stroke="#e01818" stroke-width="1.4"/><path d="M6.97,0.67 L10.97,3.07 L6.47,3.57 z" fill="#e01818"/><path d="M0,0 L-4,2.8" stroke="#0a1490" stroke-width="1.8"/><circle cx="-4.6" cy="3.6" r="1.5" fill="#0a1490"/><text x="0" y="-13.9" text-anchor="middle" class="tri" fill="#18c020">y</text><text x="13.27" y="5.27" text-anchor="middle" class="tri" fill="#e01818">x</text><text x="-8.4" y="7.8" text-anchor="middle" class="tri" fill="#3040e0">z</text></g>
<g transform="translate(249.5,411.8) scale(1)"><path d="M0,0 V-9.5" stroke="#18c020" stroke-width="1.3"/><path d="M-1.8,-9 L0,-13.3 L1.8,-9z" fill="#18c020"/><path d="M0,0 L7.47,2.07" stroke="#e01818" stroke-width="1.4"/><path d="M6.97,0.67 L10.97,3.07 L6.47,3.57 z" fill="#e01818"/><path d="M0,0 L-4,2.8" stroke="#0a1490" stroke-width="1.8"/><circle cx="-4.6" cy="3.6" r="1.5" fill="#0a1490"/><text x="0" y="-13.9" text-anchor="middle" class="tri" fill="#18c020">y</text><text x="13.27" y="5.27" text-anchor="middle" class="tri" fill="#e01818">x</text><text x="-8.4" y="7.8" text-anchor="middle" class="tri" fill="#3040e0">z</text></g>
<g transform="translate(369.6,400.3) scale(1)"><path d="M0,0 V-9.5" stroke="#18c020" stroke-width="1.3"/><path d="M-1.8,-9 L0,-13.3 L1.8,-9z" fill="#18c020"/><path d="M0,0 L7.47,2.07" stroke="#e01818" stroke-width="1.4"/><path d="M6.97,0.67 L10.97,3.07 L6.47,3.57 z" fill="#e01818"/><path d="M0,0 L-4,2.8" stroke="#0a1490" stroke-width="1.8"/><circle cx="-4.6" cy="3.6" r="1.5" fill="#0a1490"/><text x="0" y="-13.9" text-anchor="middle" class="tri" fill="#18c020">y</text><text x="13.27" y="5.27" text-anchor="middle" class="tri" fill="#e01818">x</text><text x="-8.4" y="7.8" text-anchor="middle" class="tri" fill="#3040e0">z</text></g>
<text x="259" y="219.8" class="lab" font-size="12.5" textLength="78" lengthAdjust="spacingAndGlyphs">Cuboid Shape 1</text>
<text x="161.2" y="434.4" class="lab" font-size="12.5" fill="#e0161e" textLength="78" lengthAdjust="spacingAndGlyphs">Cuboid Shape 2</text>
<text x="345.2" y="289" class="lab" font-size="12.5" fill="#1c1cf0" textLength="78.3" lengthAdjust="spacingAndGlyphs">Cuboid Shape 3</text>
<text x="249" y="477.4" class="lab" font-size="11.2" textLength="85" lengthAdjust="spacingAndGlyphs">Frequency (GHz)</text>
<text x="279.6" y="491" class="lab" font-size="11.5" textLength="14.4" lengthAdjust="spacingAndGlyphs">(d)</text>
<text transform="translate(123,357.7) rotate(-90)" class="lab" font-size="12" textLength="57.7" lengthAdjust="spacingAndGlyphs">RCS (dBm<tspan font-size="7" dy="-4">2</tspan><tspan dy="4">)</tspan></text>
</svg></body></html>
